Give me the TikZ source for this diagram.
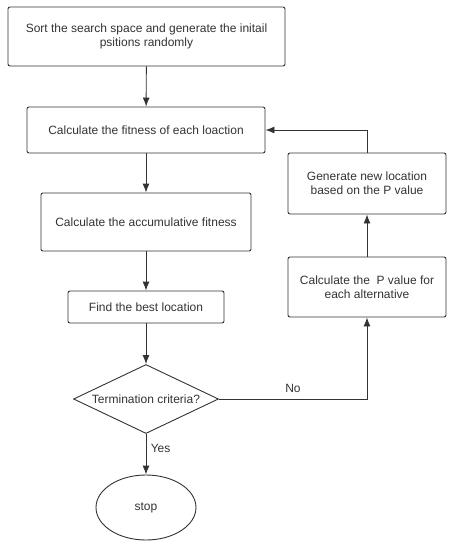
\documentclass[tikz,border=0pt]{standalone}
\usepackage{fontspec}
\setmainfont{Liberation Sans}
\usepackage{xcolor}
\usetikzlibrary{shapes.geometric, arrows.meta}

\definecolor{ink}{HTML}{333333}

\begin{document}
\begin{tikzpicture}[x=1pt, y=-1pt,
    every node/.style={font=\fontsize{12}{14}\selectfont, text=ink},
    box/.style={draw=ink, line width=0.9pt, rounded corners=2pt, align=center, inner sep=0pt},
    decision/.style={draw=ink, line width=0.9pt, diamond, aspect=2.1, inner sep=0pt, minimum width=145pt, minimum height=69pt},
    terminal/.style={draw=ink, line width=0.9pt, ellipse, inner sep=0pt, minimum width=100pt, minimum height=65pt},
    flow/.style={draw=ink, line width=0.9pt, -{Latex[length=9pt, width=7pt]}}]
    \useasboundingbox (0, 0) rectangle (454, 550);
    % left column
    \node[box, minimum width=277pt, minimum height=59pt] (init) at (146.5, 36.5) {Sort the search space and generate the initail\\psitions randomly};
    \node[box, minimum width=238pt, minimum height=46pt] (fitness) at (146, 130) {Calculate the fitness of each loaction};
    \node[box, minimum width=210pt, minimum height=58pt] (accum) at (146, 222) {Calculate the accumulative fitness};
    \node[box, minimum width=156pt, minimum height=32pt] (best) at (146, 307) {Find the best location};
    \node[decision] (term) at (146, 399) {Termination criteria?};
    \node[terminal] (stop) at (146, 507.5) {stop};
    % right column
    \node[box, minimum width=158pt, minimum height=61pt] (newloc) at (367, 183.5) {Generate new location\\based on the P value};
    \node[box, minimum width=158pt, minimum height=60pt] (pvalue) at (367, 287) {Calculate the\ \ P value for\\each alternative};
    \coordinate (corner) at (367, 399);
    \coordinate (back) at (367, 130);
    % connectors
    \draw[flow] (init) -- (fitness);
    \draw[flow] (fitness) -- (accum);
    \draw[flow] (accum) -- (best);
    \draw[flow] (best) -- (term);
    \draw[flow] (term) -- node[right, pos=0.36, xshift=1pt] {Yes} (stop);
    \draw[flow] (term.east) -- node[above, pos=0.5, yshift=3pt] {No} (corner) -- (pvalue);
    \draw[flow] (pvalue) -- (newloc);
    \draw[flow] (newloc) -- (back) -- (fitness);
\end{tikzpicture}
\end{document}
